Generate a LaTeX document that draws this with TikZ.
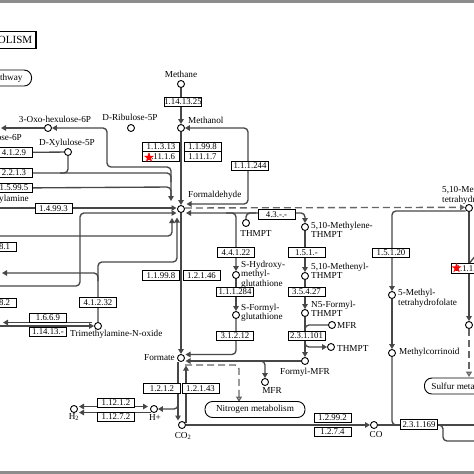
\documentclass[tikz,border=0pt]{standalone}
\usepackage{fontspec}
\setmainfont{Liberation Serif}
\usetikzlibrary{arrows.meta,calc,shapes.geometric,backgrounds}
\begin{document}
\begin{tikzpicture}[x=1pt,y=-1pt,
  ln/.style={line width=1.35pt, draw=black!72, rounded corners=4pt},
  arr/.style={-{Triangle[length=5pt,width=5.5pt]}},
  rarr/.style={{Triangle[length=5pt,width=5.5pt]}-},
  barr/.style={{Triangle[length=5pt,width=5.5pt]}-{Triangle[length=5pt,width=5.5pt]}},
  oarr/.style={-{Triangle[open,length=5.5pt,width=6pt]}},
  dsh/.style={dash pattern=on 7pt off 4pt, draw=black!60},
  ec/.style={draw=black, line width=0.8pt, fill=white, minimum width=37pt, minimum height=9.5pt, inner sep=0pt, font=\fontsize{8.8}{9}\selectfont},
  cpd/.style={circle, draw=black, line width=0.9pt, fill=white, minimum size=7pt, inner sep=0pt},
  lbl/.style={inner sep=0pt, font=\fontsize{9.2}{7.6}\selectfont, align=left},
  pwbox/.style={draw=black, line width=0.9pt, fill=white, rounded corners=7.5pt, minimum height=16pt, inner xsep=7pt, inner ysep=0pt, font=\fontsize{9.2}{10}\selectfont},
  redstar/.style={star, star points=5, star point ratio=2.5, fill=red, draw=none, minimum size=10.5pt, inner sep=0pt}
]
\useasboundingbox (0,0) rectangle (474,474);

% compounds
\node[cpd] (methane) at (181,84) {};
\node[cpd] (methanol) at (181,128) {};
\node[cpd] (form) at (181,209) {};
\node[cpd] (formate) at (181,358) {};
\node[cpd] (co2) at (182,425) {};
\node[cpd] (hplus) at (154,409) {};
\node[cpd] (h2) at (74,409) {};
\node[cpd] (co) at (374,425) {};
\node[cpd] (oxohex) at (48,128) {};
\node[cpd] (ribu) at (131,128) {};
\node[cpd] (xylu) at (68,152) {};
\node[cpd] (tmao) at (98,326) {};
\node[cpd] (thmptA) at (246,223) {};
\node[cpd] (shmg) at (236,275) {};
\node[cpd] (sfg) at (236,315) {};
\node[cpd] (mthmpt) at (305,227) {};
\node[cpd] (menyl) at (305,276) {};
\node[cpd] (nfthmpt) at (305,313) {};
\node[cpd] (mfrA) at (332,325) {};
\node[cpd] (thmptB) at (331,347) {};
\node[cpd] (fmfr) at (305,361) {};
\node[cpd] (mfrB) at (265,382) {};
\node[cpd] (mthf) at (469,208) {};
\node[cpd] (mthfB) at (392,295) {};
\node[cpd] (mcor) at (392,353) {};
\node[cpd] (cR) at (469,325) {};

% enzyme boxes
\node[ec] (e1) at (183,102) {1.14.13.25};
\node[ec] (e2) at (161,146.75) {1.1.3.13};
\node[ec] (e3) at (202.5,146.75) {1.1.99.8};
\node[ec] (e4) at (161,156.5) {1.11.1.6};
\node[ec] (e5) at (202.5,156.5) {1.11.1.7};
\node[ec] (e6) at (250,166) {1.1.1.244};
\node[ec] (e7) at (276.5,214.5) {4.3.-.-};
\node[ec] (e8) at (236,252.5) {4.4.1.22};
\node[ec] (e9) at (235,292) {1.1.1.284};
\node[ec] (e10) at (235,336) {3.1.2.12};
\node[ec] (e11) at (161,275.5) {1.1.99.8};
\node[ec] (e12) at (201.5,275.5) {1.2.1.46};
\node[ec] (e13) at (162,388.5) {1.2.1.2};
\node[ec] (e14) at (200.5,388.5) {1.2.1.43};
\node[ec] (e15) at (116,403) {1.12.1.2};
\node[ec] (e16) at (116,417) {1.12.7.2};
\node[ec] (e17) at (48,318) {1.6.6.9};
\node[ec] (e18) at (48,332) {1.14.13.-};
\node[ec] (e19) at (98,302.5) {4.1.2.32};
\node[ec] (e20) at (53.5,208.5) {1.4.99.3};
\node[ec] (b15995) at (14,188) {1.5.99.5};
\node[ec] (b2213) at (14,173) {2.2.1.3};
\node[ec] (b4129) at (14,152.5) {4.1.2.9};
\node[ec] (e21) at (-2,247) {1.5.8.1};
\node[ec] (e22) at (-2,303) {1.5.8.2};
\node[ec] (e23) at (306.5,252.5) {1.5.1.-};
\node[ec] (e24) at (306.5,292) {3.5.4.27};
\node[ec] (e25) at (306.5,336) {2.3.1.101};
\node[ec] (e26) at (391,253) {1.5.1.20};
\node[ec] (e27) at (470,268.5) {2.1.1.13};
\node[ec] (e28) at (332.5,418) {1.2.99.2};
\node[ec] (e29) at (332.5,432) {1.2.7.4};
\node[ec] (b169) at (419,424.5) {2.3.1.169};

% pathway boxes and title
\node[pwbox, minimum width=100pt] (nitro) at (255,409.5) {Nitrogen metabolism};
\node[pwbox, anchor=west] (sulf) at (424,386) {Sulfur metabolism};
\node[pwbox, anchor=east, inner xsep=9pt] (ppp) at (32,78) {Pentose phosphate pathway};
\node[draw=black, line width=1.6pt, fill=white, anchor=east, minimum height=17pt, inner xsep=4pt, font=\fontsize{11}{12}\selectfont] (title) at (37,40) {METHANE METABOLISM};

% labels
\node[lbl] (t1) at (181,74) {Methane};
\node[lbl, anchor=west] (t2) at (188,120) {Methanol};
\node[lbl, anchor=west] (t3) at (188,195) {Formaldehyde};
\node[lbl, anchor=east] (t4) at (175,358) {Formate};
\node[lbl] (t5) at (183,436) {CO\textsubscript{2}};
\node[lbl] (t6) at (155,417) {H+};
\node[lbl] (t7) at (74,417) {H\textsubscript{2}};
\node[lbl] (t8) at (376,434) {CO};
\node[lbl] (t9) at (55,119) {3-Oxo-hexulose-6P};
\node[lbl] (t10) at (130,117) {D-Ribulose-5P};
\node[lbl] (t11) at (67,143) {D-Xylulose-5P};
\node[lbl, anchor=east] (t12) at (22,137) {D-Fructose-6P};
\node[lbl, anchor=east] (t13) at (29,199) {Trimethylamine};
\node[lbl, anchor=west] (t14) at (70,334) {Trimethylamine-N-oxide};
\node[lbl] (t15) at (256,233) {THMPT};
\node[lbl, anchor=north west] (t16) at (241,261) {S-Hydroxy-\\methyl-\\glutathione};
\node[lbl, anchor=north west] (t17) at (241,304) {S-Formyl-\\glutathione};
\node[lbl, anchor=north west] (t18) at (311,222) {5,10-Methylene-\\THMPT};
\node[lbl, anchor=north west] (t19) at (311,263) {5,10-Methenyl-\\THMPT};
\node[lbl, anchor=north west] (t20) at (311,301) {N5-Formyl-\\THMPT};
\node[lbl, anchor=west] (t21) at (337,325) {MFR};
\node[lbl, anchor=west] (t22) at (337,348) {THMPT};
\node[lbl] (t23) at (305,372) {Formyl-MFR};
\node[lbl] (t24) at (272,390) {MFR};
\node[lbl, anchor=north west] (t25) at (442,186) {5,10-Methylene-\\tetrahydrofolate};
\node[lbl, anchor=north west] (t26) at (398,289) {5-Methyl-\\tetrahydrofolate};
\node[lbl, anchor=west] (t27) at (399,352) {Methylcorrinoid};

% stars
\node[redstar] (s1) at (149,157.5) {};
\node[redstar] (s2) at (456.5,268) {};

% connectors
\begin{scope}[on background layer]
\fill[white] (0,0) rectangle (474,474);
\draw[ln,arr] (methane) -- (methanol);
\draw[ln,arr] (methanol) -- (form);
\draw[ln,barr] (186.5,204) -- (248,204) -- (248,128) -- (methanol.east);
\draw[ln,dsh,arr] (form.15) -- (mthf.170);
\draw[ln,barr] (186,213) -- (305,213) -- (mthmpt.north);
\draw[ln,arr] (226,213) -- (236,213) -- (shmg);
\draw[ln] (thmptA) -- (246,213) -- (256,213);
\draw[ln,arr] (shmg) -- (sfg);
\draw[ln,arr] (sfg) -- (236,354.5) -- (185.5,354.5);
\draw[ln,arr] (fmfr.west) -- (185.5,361);
\draw[ln,arr] (254,361) -- (265,361) -- (mfrB);
\draw[ln,dsh,oarr] (185,365) -- (239,365) -- (239,402);
\draw[ln,arr] (form) -- (formate);
\draw[ln,arr] (178,362) -- (178,420.5);
\draw[ln,arr] (186,423) -- (186,365.5);
\draw[ln,arr] (178,398) -- (178,409) -- (hplus.east);
\draw[ln,barr] (79,406.5) -- (148,406.5);
\draw[ln,rarr] (79,412.5) -- (151,412.5);
\draw[ln,arr] (co2) -- (co);
\draw[ln] (co) -- (480,425);
\draw[ln] (437,425) -- (443,425) -- (443,441) -- (480,441);
\draw[ln] (mcor) -- (392,425) -- (401,425);
\draw[ln,arr] (mthfB) -- (mcor);
\draw[ln,arr] (465.5,211) -- (392,211) -- (mthfB);
\draw[ln,arr] (mthf) -- (cR);
\draw[ln,dsh,oarr] (cR) -- (469,377);
\draw[ln] (469,262) to[out=-90,in=180] (478,255);
\draw[ln,arr] (mthmpt) -- (menyl);
\draw[ln,arr] (menyl) -- (nfthmpt);
\draw[ln,arr] (nfthmpt) -- (fmfr);
\draw[ln] (305,333) -- (305,325) -- (mfrA);
\draw[ln,arr] (305,339) -- (305,347) -- (thmptB);
\draw[ln,arr] (oxohex) -- (1,128);
\draw[ln,barr] (oxohex.east) -- (107,128) -- (107,167) -- (171,167) -- (171,201);
\draw[ln] (b4129) -- (xylu);
\draw[ln] (xylu) -- (68,173) -- (60,173);
\draw[ln] (b2213) -- (171,173) -- (171,182);
\draw[ln] (b15995) -- (171,187) -- (171,196);
\draw[ln,arr] (-5,208) -- (176.5,208);
\draw[ln,arr] (-5,286) -- (80,286) -- (80,213) -- (176.5,213);
\draw[ln,arr] (-5,236) -- (172,236) -- (172,218);
\draw[ln,arr] (tmao) -- (98,262) -- (177,262) -- (177,217.5);
\draw[ln,arr] (98,281) -- (98,273) -- (2,273);
\draw[ln,arr] (92,322.5) -- (3,322.5);
\draw[ln,arr] (-5,326) -- (tmao.west);
\end{scope}

% frame bands
\fill[black!45] (0,0) rectangle (474,2.5);
\fill[black!45] (0,471) rectangle (474,474);
\end{tikzpicture}
\end{document}
